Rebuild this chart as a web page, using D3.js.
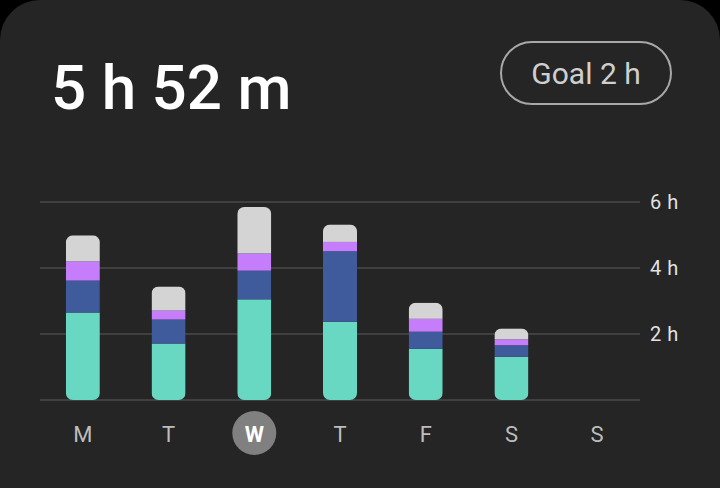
<!DOCTYPE html>
<html><head><meta charset="utf-8">
<script src="https://cdn.jsdelivr.net/npm/d3@7"></script>
<style>html,body{margin:0;padding:0;background:#000;overflow:hidden}svg{display:block}</style>
</head><body>
<script>
const days = ["M","T","W","T","F","S","S"];
const teal   = [2.65, 1.71, 3.05, 2.37, 1.55, 1.31, 0];
const blue   = [0.97, 0.73, 0.87, 2.14, 0.52, 0.35, 0];
const purple = [0.58, 0.27, 0.52, 0.28, 0.39, 0.18, 0];
const gray   = [0.79, 0.73, 1.41, 0.53, 0.49, 0.33, 0];
const tickValues = [2, 4, 6];
const tickLabels = ["2 h", "4 h", "6 h"];
const title = "5 h 52 m";
const goalLabel = "Goal 2 h";
const selectedDay = 2;

const W = 720, H = 488;
const svg = d3.select("body").append("svg").attr("width", W).attr("height", H);

// card
svg.append("path")
  .attr("d", `M0,40 A40,40 0 0 1 40,0 L680,0 A40,40 0 0 1 720,40 L720,${H} L0,${H} Z`)
  .attr("fill", "#252525");

svg.append("text").attr("x", 51).attr("y", 109)
  .attr("font-family", "Roboto").attr("font-weight", 500).attr("font-size", 62)
  .attr("fill", "#ffffff").text(title);

svg.append("rect").attr("x", 501).attr("y", 42).attr("width", 170).attr("height", 62)
  .attr("rx", 31).attr("fill", "none").attr("stroke", "#a8a8a8").attr("stroke-width", 2);
svg.append("text").attr("x", 586).attr("y", 84).attr("text-anchor", "middle")
  .attr("font-family", "Roboto").attr("font-size", 30).attr("fill", "#cfcfcf").text(goalLabel);

const x = d3.scalePoint().domain(d3.range(days.length)).range([40, 640]).padding(0.5);
const y = d3.scaleLinear().domain([0, 6]).range([400, 202]);

// grid
const gridVals = [0].concat(tickValues);
svg.append("g").selectAll("line").data(gridVals).join("line")
  .attr("x1", 40).attr("x2", 640)
  .attr("y1", d => y(d)).attr("y2", d => y(d))
  .attr("stroke", "#5c5c5c").attr("stroke-width", 1);

const axis = d3.axisRight(y).tickValues(tickValues).tickFormat((d, i) => tickLabels[i]).tickSize(0).tickPadding(0);
const ag = svg.append("g").attr("transform", "translate(650,0)").call(axis);
ag.select(".domain").remove();
ag.selectAll("text").attr("font-family", "Roboto").attr("font-size", 20).attr("fill", "#e2e2e2")
  .attr("letter-spacing", 0.5);

// stacked bars
const keys = ["teal", "blue", "purple", "gray"];
const colors = {teal: "#68d8c3", blue: "#3f5b9b", purple: "#c57dfc", gray: "#d4d4d4"};
const rows = days.map((d, i) => ({i, teal: teal[i], blue: blue[i], purple: purple[i], gray: gray[i]}));
const series = d3.stack().keys(keys)(rows);
const bw = 34;
const defs = svg.append("defs");
rows.forEach((r, i) => {
  const total = r.teal + r.blue + r.purple + r.gray;
  if (total <= 0) return;
  defs.append("clipPath").attr("id", "clip" + i).append("rect")
    .attr("x", x(i) - bw / 2).attr("y", y(total)).attr("width", bw)
    .attr("height", y(0) - y(total)).attr("rx", 7);
});
const bars = svg.append("g");
series.forEach(s => {
  bars.append("g").attr("fill", colors[s.key]).selectAll("rect")
    .data(s.filter(d => d[1] - d[0] > 0)).join("rect")
    .attr("clip-path", d => `url(#clip${d.data.i})`)
    .attr("x", d => x(d.data.i) - bw / 2).attr("width", bw)
    .attr("y", d => y(d[1])).attr("height", d => y(d[0]) - y(d[1]));
});

// day labels
svg.append("circle").attr("cx", x(selectedDay)).attr("cy", 433).attr("r", 22).attr("fill", "#808080");
svg.append("g").selectAll("text").data(days).join("text")
  .attr("x", (d, i) => x(i)).attr("y", 441.5).attr("text-anchor", "middle")
  .attr("font-family", "Roboto").attr("font-size", 22)
  .attr("font-weight", (d, i) => i === selectedDay ? 700 : 400)
  .attr("fill", (d, i) => i === selectedDay ? "#ffffff" : "#bdbdbd")
  .text(d => d);
</script>
</body></html>
